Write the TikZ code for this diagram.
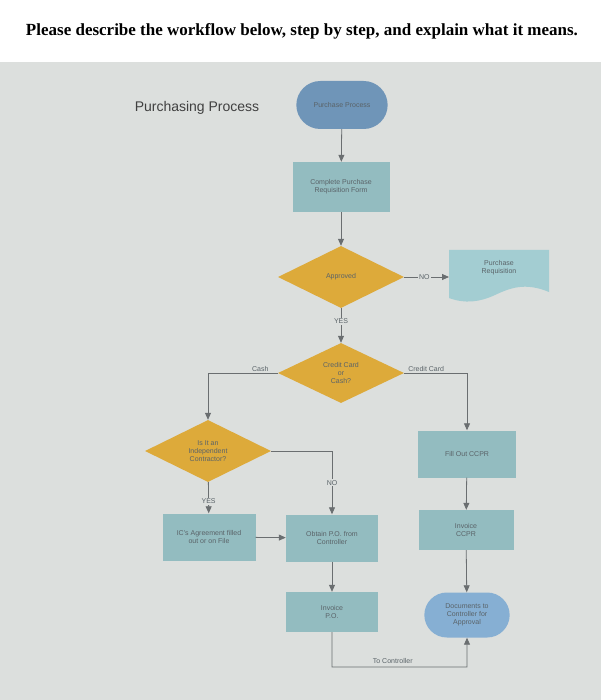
\documentclass[tikz,border=0pt]{standalone}
\usepackage{fontspec}
\setmainfont{Liberation Sans}
\newfontfamily\titlefont{Liberation Serif}
\usetikzlibrary{shapes.geometric,shapes.misc,arrows.meta}
\definecolor{bg}{HTML}{DCDFDD}
\definecolor{term}{HTML}{6F95B8}
\definecolor{term2}{HTML}{86AFD3}
\definecolor{boxc}{HTML}{93BCC0}
\definecolor{diac}{HTML}{DDAA3A}
\definecolor{docc}{HTML}{A3CDD2}
\definecolor{ln}{HTML}{6A6E70}
\definecolor{txt}{HTML}{5A6368}
\tikzset{
  x=1pt,y=-1pt,
  every node/.style={font=\fontsize{7}{8}\selectfont,text=txt,align=center},
  termbox/.style={rounded rectangle,fill=#1,minimum width=98pt,minimum height=48pt},
  procbox/.style={rectangle,fill=boxc,minimum width=#1,minimum height=47pt},
  decis/.style={diamond,fill=diac,minimum width=126pt,minimum height=62pt,aspect=2,inner sep=0pt},
  conn/.style={draw=ln,line width=0.8pt},
  arr/.style={conn,-{Triangle[length=7pt,width=6pt]}},
  lbl/.style={fill=bg,inner sep=1pt}
}
\begin{document}
\begin{tikzpicture}
\fill[white] (0,0) rectangle (601,700);
\fill[bg] (0,62) rectangle (601,700);
\useasboundingbox (0,0) rectangle (601,700);
\node[font=\titlefont\bfseries\fontsize{17}{19}\selectfont,text=black] (title) at (302,31) {Please describe the workflow below, step by step, and explain what it means.};
\node[font=\fontsize{14}{16}\selectfont,text=black!75] (pp) at (197,108) {Purchasing Process};
\node[termbox=term] (start) at (342,105) {Purchase Process};
\node[procbox=97pt,minimum height=50pt] (form) at (341,187) {Complete Purchase\\Requisition Form};
\node[decis] (appr) at (341,277) {Approved};
\fill[docc] (449,250) -- (549,250) -- (549,292) .. controls (525,282) and (510,288) .. (495,295) .. controls (480,302) and (465,304) .. (449,298) -- cycle;
\node (req) at (499,268) {Purchase\\Requisition};
\coordinate (reqw) at (449,277);
\node[decis,minimum height=60pt] (cc) at (341,373) {Credit Card\\or\\Cash?};
\node[decis] (ic) at (208,451) {Is It an\\Independent\\Contractor?};
\node[procbox=93pt] (icag) at (209,537) {IC's Agreement filled\\out or on File};
\node[procbox=92pt] (po) at (332,538) {Obtain P.O. from\\Controller};
\node[procbox=92pt,minimum height=40pt] (ipo) at (332,612) {Invoice\\P.O.};
\node[procbox=98pt] (ccpr) at (467,454) {Fill Out CCPR};
\node[procbox=95pt,minimum height=40pt] (iccpr) at (466,530) {Invoice\\CCPR};
\node[termbox=term2,minimum width=92pt,minimum height=45pt] (docs) at (467,615) {Documents to\\Controller for\\Approval};

\draw[arr] (start) -- (form);
\draw[arr] (form) -- (appr);
\draw[arr] (appr) -- node[lbl,pos=0.45]{NO} (reqw);
\draw[arr] (appr) -- node[lbl,pos=0.38]{YES} (cc);
\draw[arr] (cc.west) -- node[above,pos=0.25,inner sep=1pt]{Cash} (cc.west -| ic.north) -- (ic);
\draw[arr] (cc.east) -- node[above,pos=0.35,inner sep=1pt]{Credit Card} (cc.east -| ccpr.north) -- (ccpr);
\draw[arr] (ic.east) -- (ic.east -| po.north) -- node[lbl,pos=0.5]{NO} (po);
\draw[arr] (ic) -- node[lbl,pos=0.62]{YES} (icag);
\draw[arr] (icag) -- (po);
\draw[arr] (po) -- (ipo);
\draw[arr] (ccpr) -- (iccpr);
\draw[arr] (iccpr) -- (docs);
\coordinate (bl) at (332,667);
\coordinate (br) at (467,667);
\draw[arr] (ipo) -- (bl) -- node[above,pos=0.45]{To Controller} (br) -- (docs);
\end{tikzpicture}
\end{document}
